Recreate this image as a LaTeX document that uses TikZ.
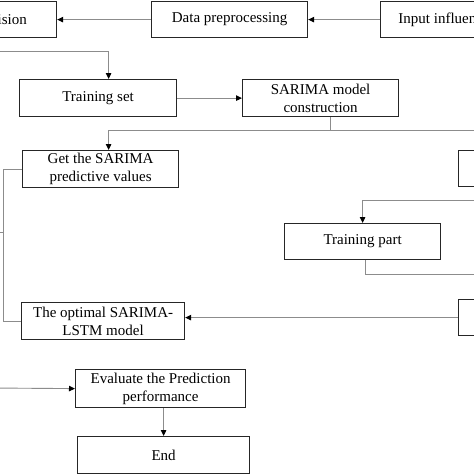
\documentclass[tikz,border=0pt]{standalone}
\usepackage{fontspec}
\setmainfont{Liberation Serif}
\usetikzlibrary{arrows.meta}
\begin{document}
\begin{tikzpicture}[x=1pt,y=-1pt,
  box/.style={draw=black!85,line width=1.2pt,anchor=north west,inner sep=0pt,align=center,
    font=\fontsize{15}{18}\selectfont,fill=white},
  conn/.style={draw=black!45,line width=0.9pt},
  arr/.style={conn,-{Triangle[length=6pt,width=5.5pt,color=black]}}]
\useasboundingbox (0,0) rectangle (474,474);
\clip (0,0) rectangle (474,474);
\fill[white] (0,0) rectangle (474,474);
% boxes
\node[box,minimum width=140pt,minimum height=36pt] (div) at (-84,1) {Data division};
\node[box,minimum width=156pt,minimum height=36pt] (prep) at (151,1) {Data preprocessing};
\node[box,minimum width=184pt,minimum height=36pt] (inp) at (380,1) {Input influencing factors};
\node[box,minimum width=157pt,minimum height=37pt] (train) at (19,79) {Training set};
\node[box,minimum width=156pt,minimum height=37pt] (sarima) at (242,79) {SARIMA model\\construction};
\node[box,minimum width=156pt,minimum height=37pt] (get) at (22,150) {Get the SARIMA\\predictive values};
\node[box,minimum width=160pt,minimum height=36pt] (box3) at (458,150) {};
\node[box,minimum width=156pt,minimum height=36pt] (tpart) at (284,223) {Training part};
\node[box,minimum width=160pt,minimum height=36pt] (box4) at (458,299) {};
\node[box,minimum width=163pt,minimum height=37pt] (opt) at (21,302) {The optimal SARIMA-\\LSTM model};
\node[box,minimum width=170pt,minimum height=38pt] (eval) at (75,369) {Evaluate the Prediction\\performance};
\node[box,minimum width=172pt,minimum height=37pt] (end) at (77,436) {End};
% free ends
\coordinate (l1) at (-10,51);
\coordinate (r1) at (490,130);
\coordinate (r2) at (490,200);
\coordinate (r3) at (490,274);
\coordinate (l2) at (-10,232);
\coordinate (l3) at (-10,388);
% connectors
\draw[arr] (inp.west) -- (prep.east);
\draw[arr] (prep.west) -- (div.east);
\draw[arr] (l1) -| ([xshift=10.5pt]train.north);
\draw[arr] (train.east) -- (sarima.west);
\draw[conn] ([xshift=10pt]sarima.south) |- (r1);
\draw[arr] (r1) -| ([xshift=8pt]get.north);
\draw[conn] (get.west) -- ++(-19,0) |- (opt.west);
\draw[conn] (l2) -- (3,232);
\draw[arr] (r2) -| (tpart.north);
\draw[conn] ([xshift=3pt]tpart.south) |- (r3);
\draw[arr] (box4.west) -- (box4.west -| opt.east);
\draw[arr] (l3) -- (eval.west);
\draw[arr] ([xshift=3pt]eval.south) -- ([xshift=3pt]eval.south |- end.north);
\end{tikzpicture}
\end{document}
